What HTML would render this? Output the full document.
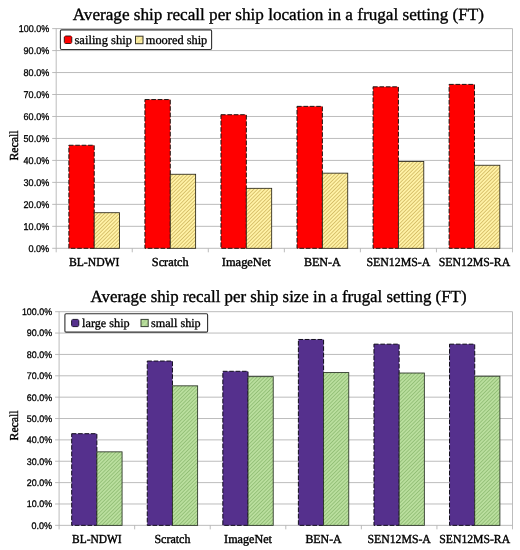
<!DOCTYPE html>
<html><head><meta charset="utf-8"><title>Average ship recall</title>
<style>
html,body{margin:0;padding:0;background:#fff}
svg{display:block;text-rendering:geometricPrecision}
.g{stroke:#b4b4b4;stroke-width:0.9;fill:none}
.yl{font-family:"Liberation Sans",sans-serif;fill:#000;text-anchor:end;stroke:#000;stroke-width:0.3}
.cl{font-family:"Liberation Serif",serif;fill:#000;text-anchor:middle;stroke:#000;stroke-width:0.4}
.tt{font-family:"Liberation Serif",serif;fill:#000;stroke:#000;stroke-width:0.35}
.lt{font-family:"Liberation Serif",serif;fill:#000;stroke:#000;stroke-width:0.3}
.red{fill:#ff0000;stroke:#1c1410;stroke-width:1;stroke-dasharray:4.6 1.8}
.pur{fill:#55308d;stroke:#100c1c;stroke-width:1;stroke-dasharray:4.6 1.8}
.yel{fill:url(#hy);stroke:#2a2618;stroke-width:0.85}
.yel2{fill:url(#hy2);stroke:#3a3628;stroke-width:1}
.grn2{fill:url(#hg2);stroke:#364032;stroke-width:1}
.grn{fill:url(#hg);stroke:#263022;stroke-width:0.85}
</style></head><body>
<svg width="520" height="550" viewBox="0 0 520 550">
<defs>
<pattern id="hy" width="2.6" height="2.6" patternUnits="userSpaceOnUse" patternTransform="rotate(-45)">
<rect width="2.6" height="2.6" fill="#fff2a6"/><line x1="0" y1="1.3" x2="2.6" y2="1.3" stroke="#cdb45c" stroke-width="0.75"/>
</pattern>
<pattern id="hg" width="2.6" height="2.6" patternUnits="userSpaceOnUse" patternTransform="rotate(-45)">
<rect width="2.6" height="2.6" fill="#badf9e"/><line x1="0" y1="1.3" x2="2.6" y2="1.3" stroke="#8ab86e" stroke-width="0.75"/>
</pattern>
<pattern id="hy2" width="3.6" height="3.6" patternUnits="userSpaceOnUse" patternTransform="rotate(-45)">
<rect width="3.6" height="3.6" fill="#fff2a6"/><line x1="0" y1="1.8" x2="3.6" y2="1.8" stroke="#d8c270" stroke-width="0.7"/>
</pattern>
<pattern id="hg2" width="3.6" height="3.6" patternUnits="userSpaceOnUse" patternTransform="rotate(-45)">
<rect width="3.6" height="3.6" fill="#badf9e"/><line x1="0" y1="1.8" x2="3.6" y2="1.8" stroke="#94c078" stroke-width="0.7"/>
</pattern>
</defs>
<rect width="520" height="550" fill="#fff"/>
<line x1="52.2" y1="248.3" x2="512.5" y2="248.3" class="g"/>
<line x1="52.2" y1="226.33" x2="512.5" y2="226.33" class="g"/>
<line x1="52.2" y1="204.36" x2="512.5" y2="204.36" class="g"/>
<line x1="52.2" y1="182.39" x2="512.5" y2="182.39" class="g"/>
<line x1="52.2" y1="160.42" x2="512.5" y2="160.42" class="g"/>
<line x1="52.2" y1="138.45" x2="512.5" y2="138.45" class="g"/>
<line x1="52.2" y1="116.48" x2="512.5" y2="116.48" class="g"/>
<line x1="52.2" y1="94.51" x2="512.5" y2="94.51" class="g"/>
<line x1="52.2" y1="72.54" x2="512.5" y2="72.54" class="g"/>
<line x1="52.2" y1="50.57" x2="512.5" y2="50.57" class="g"/>
<line x1="52.2" y1="28.6" x2="512.5" y2="28.6" class="g"/>
<line x1="56.2" y1="28.6" x2="56.2" y2="252.3" class="g"/>
<line x1="512.5" y1="28.6" x2="512.5" y2="252.3" class="g"/>
<line x1="132.25" y1="248.3" x2="132.25" y2="252.3" class="g"/>
<line x1="208.3" y1="248.3" x2="208.3" y2="252.3" class="g"/>
<line x1="284.35" y1="248.3" x2="284.35" y2="252.3" class="g"/>
<line x1="360.4" y1="248.3" x2="360.4" y2="252.3" class="g"/>
<line x1="436.45" y1="248.3" x2="436.45" y2="252.3" class="g"/>
<text x="49.2" y="251.75" class="yl" font-size="9.8" textLength="20.8" lengthAdjust="spacingAndGlyphs">0.0%</text>
<text x="49.2" y="229.78" class="yl" font-size="9.8" textLength="25.6" lengthAdjust="spacingAndGlyphs">10.0%</text>
<text x="49.2" y="207.81" class="yl" font-size="9.8" textLength="25.6" lengthAdjust="spacingAndGlyphs">20.0%</text>
<text x="49.2" y="185.84" class="yl" font-size="9.8" textLength="25.6" lengthAdjust="spacingAndGlyphs">30.0%</text>
<text x="49.2" y="163.87" class="yl" font-size="9.8" textLength="25.6" lengthAdjust="spacingAndGlyphs">40.0%</text>
<text x="49.2" y="141.9" class="yl" font-size="9.8" textLength="25.6" lengthAdjust="spacingAndGlyphs">50.0%</text>
<text x="49.2" y="119.93" class="yl" font-size="9.8" textLength="25.6" lengthAdjust="spacingAndGlyphs">60.0%</text>
<text x="49.2" y="97.96" class="yl" font-size="9.8" textLength="25.6" lengthAdjust="spacingAndGlyphs">70.0%</text>
<text x="49.2" y="75.99" class="yl" font-size="9.8" textLength="25.6" lengthAdjust="spacingAndGlyphs">80.0%</text>
<text x="49.2" y="54.02" class="yl" font-size="9.8" textLength="25.6" lengthAdjust="spacingAndGlyphs">90.0%</text>
<text x="49.2" y="32.05" class="yl" font-size="9.8" textLength="30.4" lengthAdjust="spacingAndGlyphs">100.0%</text>
<rect x="68.88" y="145.26" width="25.35" height="103.04" class="red"/>
<rect x="94.22" y="212.71" width="25.35" height="35.59" class="yel"/>
<rect x="144.93" y="99.56" width="25.35" height="148.74" class="red"/>
<rect x="170.28" y="174.26" width="25.35" height="74.04" class="yel"/>
<rect x="220.98" y="114.72" width="25.35" height="133.58" class="red"/>
<rect x="246.33" y="188.32" width="25.35" height="59.98" class="yel"/>
<rect x="297.02" y="106.37" width="25.35" height="141.93" class="red"/>
<rect x="322.38" y="173.16" width="25.35" height="75.14" class="yel"/>
<rect x="373.07" y="86.82" width="25.35" height="161.48" class="red"/>
<rect x="398.43" y="161.52" width="25.35" height="86.78" class="yel"/>
<rect x="449.12" y="84.4" width="25.35" height="163.9" class="red"/>
<rect x="474.48" y="165.25" width="25.35" height="83.05" class="yel"/>
<text x="94.22" y="265.9" class="cl" font-size="12.3" textLength="50.5" lengthAdjust="spacingAndGlyphs">BL-NDWI</text>
<text x="170.27" y="265.9" class="cl" font-size="12.3" textLength="36.9" lengthAdjust="spacingAndGlyphs">Scratch</text>
<text x="246.32" y="265.9" class="cl" font-size="12.3" textLength="49" lengthAdjust="spacingAndGlyphs">ImageNet</text>
<text x="322.38" y="265.9" class="cl" font-size="12.3" textLength="37" lengthAdjust="spacingAndGlyphs">BEN-A</text>
<text x="398.42" y="265.9" class="cl" font-size="12.3" textLength="64" lengthAdjust="spacingAndGlyphs">SEN12MS-A</text>
<text x="474.47" y="265.9" class="cl" font-size="12.3" textLength="71.4" lengthAdjust="spacingAndGlyphs">SEN12MS-RA</text>
<text transform="translate(17.9 145.5) rotate(-90)" class="cl" font-size="12.3" textLength="30" lengthAdjust="spacingAndGlyphs">Recall</text>
<text x="72.7" y="19.6" class="tt" font-size="17.1" textLength="411.3" lengthAdjust="spacingAndGlyphs">Average ship recall per ship location in a frugal setting (FT)</text>
<rect x="60.4" y="29.9" width="151.2" height="19.6" rx="1.2" fill="#fff" stroke="#303030" stroke-width="1.1"/>
<rect x="64.3" y="36" width="7.5" height="7.5" class="red" style="stroke-dasharray:5.5 2;stroke-dashoffset:-1;stroke-width:0.9"/>
<text x="74.5" y="43.5" class="lt" font-size="12.3" textLength="57.4" lengthAdjust="spacingAndGlyphs">sailing ship</text>
<rect x="135.5" y="36.2" width="7.5" height="7.5" class="yel2"/>
<text x="145.8" y="43.5" class="lt" font-size="12.3" textLength="61.5" lengthAdjust="spacingAndGlyphs">moored ship</text>
<line x1="55.1" y1="525.35" x2="512.5" y2="525.35" class="g"/>
<line x1="55.1" y1="503.99" x2="512.5" y2="503.99" class="g"/>
<line x1="55.1" y1="482.62" x2="512.5" y2="482.62" class="g"/>
<line x1="55.1" y1="461.25" x2="512.5" y2="461.25" class="g"/>
<line x1="55.1" y1="439.89" x2="512.5" y2="439.89" class="g"/>
<line x1="55.1" y1="418.52" x2="512.5" y2="418.52" class="g"/>
<line x1="55.1" y1="397.16" x2="512.5" y2="397.16" class="g"/>
<line x1="55.1" y1="375.8" x2="512.5" y2="375.8" class="g"/>
<line x1="55.1" y1="354.43" x2="512.5" y2="354.43" class="g"/>
<line x1="55.1" y1="333.06" x2="512.5" y2="333.06" class="g"/>
<line x1="55.1" y1="311.7" x2="512.5" y2="311.7" class="g"/>
<line x1="59.1" y1="311.7" x2="59.1" y2="529.35" class="g"/>
<line x1="512.5" y1="311.7" x2="512.5" y2="529.35" class="g"/>
<line x1="134.67" y1="525.35" x2="134.67" y2="529.35" class="g"/>
<line x1="210.23" y1="525.35" x2="210.23" y2="529.35" class="g"/>
<line x1="285.8" y1="525.35" x2="285.8" y2="529.35" class="g"/>
<line x1="361.37" y1="525.35" x2="361.37" y2="529.35" class="g"/>
<line x1="436.93" y1="525.35" x2="436.93" y2="529.35" class="g"/>
<text x="52.1" y="528.7" class="yl" font-size="9.6" textLength="20.5" lengthAdjust="spacingAndGlyphs">0.0%</text>
<text x="52.1" y="507.34" class="yl" font-size="9.6" textLength="25.3" lengthAdjust="spacingAndGlyphs">10.0%</text>
<text x="52.1" y="485.97" class="yl" font-size="9.6" textLength="25.3" lengthAdjust="spacingAndGlyphs">20.0%</text>
<text x="52.1" y="464.61" class="yl" font-size="9.6" textLength="25.3" lengthAdjust="spacingAndGlyphs">30.0%</text>
<text x="52.1" y="443.24" class="yl" font-size="9.6" textLength="25.3" lengthAdjust="spacingAndGlyphs">40.0%</text>
<text x="52.1" y="421.88" class="yl" font-size="9.6" textLength="25.3" lengthAdjust="spacingAndGlyphs">50.0%</text>
<text x="52.1" y="400.51" class="yl" font-size="9.6" textLength="25.3" lengthAdjust="spacingAndGlyphs">60.0%</text>
<text x="52.1" y="379.15" class="yl" font-size="9.6" textLength="25.3" lengthAdjust="spacingAndGlyphs">70.0%</text>
<text x="52.1" y="357.78" class="yl" font-size="9.6" textLength="25.3" lengthAdjust="spacingAndGlyphs">80.0%</text>
<text x="52.1" y="336.42" class="yl" font-size="9.6" textLength="25.3" lengthAdjust="spacingAndGlyphs">90.0%</text>
<text x="52.1" y="315.05" class="yl" font-size="9.6" textLength="30.2" lengthAdjust="spacingAndGlyphs">100.0%</text>
<rect x="71.69" y="433.69" width="25.19" height="91.66" class="pur"/>
<rect x="96.88" y="451.85" width="25.19" height="73.5" class="grn"/>
<rect x="147.26" y="361.05" width="25.19" height="164.3" class="pur"/>
<rect x="172.45" y="385.84" width="25.19" height="139.51" class="grn"/>
<rect x="222.83" y="371.31" width="25.19" height="154.04" class="pur"/>
<rect x="248.02" y="376.65" width="25.19" height="148.7" class="grn"/>
<rect x="298.39" y="339.47" width="25.19" height="185.88" class="pur"/>
<rect x="323.58" y="372.59" width="25.19" height="152.76" class="grn"/>
<rect x="373.96" y="344.17" width="25.19" height="181.18" class="pur"/>
<rect x="399.15" y="373.02" width="25.19" height="152.33" class="grn"/>
<rect x="449.53" y="344.17" width="25.19" height="181.18" class="pur"/>
<rect x="474.72" y="376.22" width="25.19" height="149.13" class="grn"/>
<text x="96.88" y="542.6" class="cl" font-size="12.3" textLength="49.6" lengthAdjust="spacingAndGlyphs">BL-NDWI</text>
<text x="172.45" y="542.6" class="cl" font-size="12.3" textLength="36" lengthAdjust="spacingAndGlyphs">Scratch</text>
<text x="248.02" y="542.6" class="cl" font-size="12.3" textLength="47.8" lengthAdjust="spacingAndGlyphs">ImageNet</text>
<text x="323.58" y="542.6" class="cl" font-size="12.3" textLength="36.2" lengthAdjust="spacingAndGlyphs">BEN-A</text>
<text x="399.15" y="542.6" class="cl" font-size="12.3" textLength="63.4" lengthAdjust="spacingAndGlyphs">SEN12MS-A</text>
<text x="474.72" y="542.6" class="cl" font-size="12.3" textLength="70.8" lengthAdjust="spacingAndGlyphs">SEN12MS-RA</text>
<text transform="translate(17.9 425.5) rotate(-90)" class="cl" font-size="12.1" textLength="29.8" lengthAdjust="spacingAndGlyphs">Recall</text>
<text x="90.6" y="301.6" class="tt" font-size="16.9" textLength="375.9" lengthAdjust="spacingAndGlyphs">Average ship recall per ship size in a frugal setting (FT)</text>
<rect x="64.9" y="313.7" width="142.7" height="18.4" rx="1.2" fill="#fff" stroke="#303030" stroke-width="1.1"/>
<rect x="71.6" y="319.4" width="7.2" height="7.2" class="pur" style="stroke-dasharray:5.2 2;stroke-dashoffset:-1;stroke-width:0.9"/>
<text x="82.1" y="326.7" class="lt" font-size="12.1" textLength="47.6" lengthAdjust="spacingAndGlyphs">large ship</text>
<rect x="141" y="319.4" width="7.2" height="7.2" class="grn2"/>
<text x="151" y="326.7" class="lt" font-size="12.1" textLength="49.7" lengthAdjust="spacingAndGlyphs">small ship</text>
</svg>
</body></html>
